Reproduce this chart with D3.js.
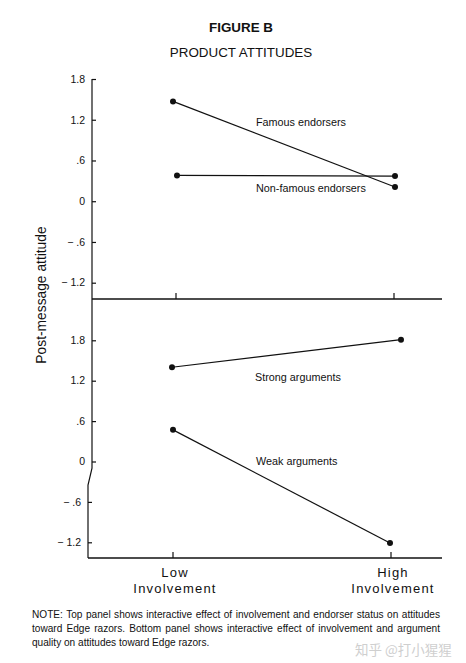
<!DOCTYPE html>
<html>
<head>
<meta charset="utf-8">
<script src="https://cdn.jsdelivr.net/npm/d3@7"></script>
<style>
body { margin: 0; background: #fff; }
svg text { font-family: "Liberation Sans", Arial, sans-serif; fill: #111; }
</style>
</head>
<body>
<div id="chart"></div>
<script>
// data
let levels = ["Low", "High"];
let famous = [1.47, 0.21];
let nonFamous = [0.38, 0.37];
let strong = [1.40, 1.81];
let weak = [0.47, -1.21];
let yTicks = [-1.2, -0.6, 0, 0.6, 1.2, 1.8];
let yTickLabels = ["\u2212 1.2", "\u2212 .6", "0", ".6", "1.2", "1.8"];
let noteLines = [
	"NOTE: Top panel shows interactive effect of involvement and endorser status on attitudes",
	"toward Edge razors. Bottom panel shows interactive effect of involvement and argument",
	"quality on attitudes toward Edge razors."
];

let width = 466, height = 663;

let svg = d3.select("#chart")
	.append("svg")
	.attr("width", width)
	.attr("height", height);

// panel layout (pixels)
let topPanel = {axisX: 92, yRange: [282.7, 79], top: 79, floor: 299, xRange: [176, 394]};
let botPanel = {axisX: 92, axisX2: 88, yRange: [542.3, 340.3], top: 299, floor: 558, xRange: [173, 391]};
let rightEnd = 442;

let yTopScale = d3.scaleLinear().domain([-1.2, 1.8]).range(topPanel.yRange);
let yBotScale = d3.scaleLinear().domain([-1.2, 1.8]).range(botPanel.yRange);
let xTopScale = d3.scalePoint().domain(levels).range(topPanel.xRange);
let xBotScale = d3.scalePoint().domain(levels).range(botPanel.xRange);

let ink = "#111";

// ---- titles
svg.append("text")
	.attr("x", 241).attr("y", 32)
	.style("text-anchor", "middle")
	.style("font-weight", "bold")
	.style("font-size", "13.4px")
	.text("FIGURE B");

svg.append("text")
	.attr("x", 241).attr("y", 57)
	.style("text-anchor", "middle")
	.style("font-size", "13.4px")
	.text("PRODUCT ATTITUDES");

// ---- y axes
function drawYAxis(scale, x) {
	let g = svg.append("g")
		.attr("class", "y axis")
		.attr("transform", "translate(" + x + ",0)")
		.call(d3.axisRight(scale).tickValues(yTicks).tickSize(4).tickFormat(""));
	g.select(".domain").remove();
	g.selectAll(".tick line").attr("stroke", ink).attr("stroke-width", 1.2);
	return g;
}

// top panel axis line and ticks
svg.append("line")
	.attr("x1", topPanel.axisX).attr("x2", topPanel.axisX)
	.attr("y1", topPanel.top).attr("y2", topPanel.floor)
	.attr("stroke", ink).attr("stroke-width", 1.2);
drawYAxis(yTopScale, topPanel.axisX);

// bottom panel axis, with the little break near zero
let breakTop = yBotScale(-0.1), breakBot = yBotScale(-0.35);
svg.append("path")
	.attr("d", "M" + botPanel.axisX + "," + botPanel.top +
		"L" + botPanel.axisX + "," + breakTop +
		"L" + botPanel.axisX2 + "," + breakBot +
		"L" + botPanel.axisX2 + "," + botPanel.floor)
	.attr("fill", "none")
	.attr("stroke", ink).attr("stroke-width", 1.2);

let botAxis = drawYAxis(yBotScale, botPanel.axisX);
botAxis.selectAll(".tick")
	.filter(d => d < 0)
	.select("line")
	.attr("x1", botPanel.axisX2 - botPanel.axisX)
	.attr("x2", botPanel.axisX2 - botPanel.axisX + 4);

// tick labels, right aligned left of the axis
function drawTickLabels(scale, xFor) {
	svg.append("g").selectAll("text")
		.data(yTicks)
		.enter()
		.append("text")
		.attr("x", d => xFor(d))
		.attr("y", d => scale(d))
		.attr("dy", "0.36em")
		.style("text-anchor", "end")
		.style("font-size", "10.5px")
		.text((d, i) => yTickLabels[i]);
}
drawTickLabels(yTopScale, d => topPanel.axisX - 7);
drawTickLabels(yBotScale, d => (d < 0 ? botPanel.axisX2 : botPanel.axisX) - 7);

// ---- horizontal axes
function drawXAxis(xScale, y, x0) {
	svg.append("line")
		.attr("x1", x0).attr("x2", rightEnd)
		.attr("y1", y).attr("y2", y)
		.attr("stroke", ink).attr("stroke-width", 1.3);
	svg.append("g").selectAll("line")
		.data(levels)
		.enter()
		.append("line")
		.attr("x1", d => xScale(d)).attr("x2", d => xScale(d))
		.attr("y1", y).attr("y2", y - 6)
		.attr("stroke", ink).attr("stroke-width", 1.2);
}
drawXAxis(xTopScale, topPanel.floor, topPanel.axisX);
drawXAxis(xBotScale, botPanel.floor, botPanel.axisX2);

let xLabels = svg.append("g").selectAll("text")
	.data(levels)
	.enter()
	.append("text")
	.attr("x", d => xBotScale(d) + 2)
	.attr("y", 577)
	.style("text-anchor", "middle")
	.style("font-size", "13px")
	.style("letter-spacing", "1.2px");
xLabels.append("tspan").text(d => d);
xLabels.append("tspan")
	.attr("x", d => xBotScale(d) + 2)
	.attr("dy", 16)
	.text("Involvement");

// y title
svg.append("text")
	.attr("transform", "translate(46,295) rotate(-90)")
	.style("text-anchor", "middle")
	.style("font-size", "13.8px")
	.text("Post-message attitude");

// ---- series
// small horizontal shifts of the hand drawn points (px)
let series = [
	{values: famous, y: yTopScale, x: xTopScale, shift: [-3, 1]},
	{values: nonFamous, y: yTopScale, x: xTopScale, shift: [1, 1]},
	{values: strong, y: yBotScale, x: xBotScale, shift: [-1, 10]},
	{values: weak, y: yBotScale, x: xBotScale, shift: [0, -1]}
];

series.forEach(function (s) {
	let pts = levels.map((l, i) => [s.x(l) + s.shift[i], s.y(s.values[i])]);
	svg.append("path")
		.attr("d", d3.line()(pts))
		.attr("fill", "none")
		.attr("stroke", ink)
		.attr("stroke-width", 1.2);
	svg.append("g").selectAll("circle")
		.data(pts)
		.enter()
		.append("circle")
		.attr("cx", d => d[0])
		.attr("cy", d => d[1])
		.attr("r", 3)
		.attr("fill", ink);
});

// series labels
let seriesLabels = [
	{text: "Famous endorsers", x: 256, y: 126},
	{text: "Non-famous endorsers", x: 256, y: 192},
	{text: "Strong arguments", x: 255, y: 381},
	{text: "Weak arguments", x: 256, y: 465}
];
svg.append("g").selectAll("text")
	.data(seriesLabels)
	.enter()
	.append("text")
	.attr("x", d => d.x)
	.attr("y", d => d.y)
	.style("font-size", "10.8px")
	.text(d => d.text);

// ---- note, justified like the printed page
let noteLeft = 32, noteRight = 440;
noteLines.forEach(function (line, i) {
	let t = svg.append("text")
		.attr("x", noteLeft)
		.attr("y", 618 + i * 14)
		.style("font-size", "10.1px")
		.text(line);
	if (i < noteLines.length - 1) {
		let gaps = line.split(" ").length - 1;
		let extra = (noteRight - noteLeft - t.node().getComputedTextLength()) / gaps;
		t.style("word-spacing", extra + "px");
	}
});

// watermark
svg.append("text")
	.attr("x", 355).attr("y", 655)
	.style("font-family", "'Noto Sans CJK SC', sans-serif")
	.style("font-size", "13.5px")
	.style("fill", "#cfcfcf")
	.text("知乎 @打小猩猩");
</script>
</body>
</html>
